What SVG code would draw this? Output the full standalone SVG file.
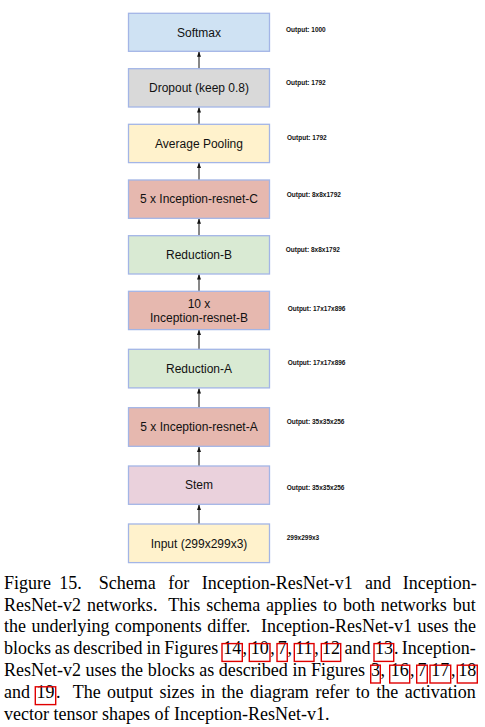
<svg xmlns="http://www.w3.org/2000/svg" width="485" height="727" viewBox="0 0 485 727">
<defs>
<marker id="ah" markerWidth="6" markerHeight="6" refX="5" refY="3" orient="auto" markerUnits="userSpaceOnUse">
<path d="M0,1 L5.2,3 L0,5 Z" fill="#111"/>
</marker>
<style>
.box{stroke:#a3b5e6;stroke-width:1.3}
.lbl{font-family:"Liberation Sans",Arial,sans-serif;font-size:12px;fill:#111;text-anchor:middle}
.out{font-family:"Liberation Sans",Arial,sans-serif;font-size:6.5px;font-weight:bold;fill:#111}
.cap{font-family:"Liberation Serif","Times New Roman",serif;font-size:18px;fill:#000}
.ref{fill:none;stroke:#e00000;stroke-width:1.4}
.arr{stroke:#111;stroke-width:1;fill:none;marker-end:url(#ah)}
</style>
</defs>
<rect width="485" height="727" fill="#fff"/>
<g id="connectors">
<line class="arr" x1="199" y1="524" x2="199" y2="505"/>
<line class="arr" x1="199" y1="466" x2="199" y2="447"/>
<line class="arr" x1="199" y1="407.7" x2="199" y2="388.5"/>
<line class="arr" x1="199" y1="349.3" x2="199" y2="330"/>
<line class="arr" x1="199" y1="291.3" x2="199" y2="274.5"/>
<line class="arr" x1="199" y1="235.7" x2="199" y2="218.8"/>
<line class="arr" x1="199" y1="180" x2="199" y2="163"/>
<line class="arr" x1="199" y1="124.3" x2="199" y2="107.5"/>
<line class="arr" x1="199" y1="68.7" x2="199" y2="51.8"/>
</g>
<g id="softmax"><rect class="box" x="128.5" y="13.3" width="141" height="38" fill="#cfe2f3"/><text class="lbl" x="199" y="36.5">Softmax</text><text class="out" x="286" y="31.5">Output: 1000</text></g>
<g id="dropout"><rect class="box" x="128.5" y="68.7" width="141" height="38.3" fill="#d9d9d9"/><text class="lbl" x="199" y="92">Dropout (keep 0.8)</text><text class="out" x="286" y="84.8">Output: 1792</text></g>
<g id="avgpool"><rect class="box" x="128.5" y="124.3" width="141" height="38.3" fill="#fff2cc"/><text class="lbl" x="199" y="147.6">Average Pooling</text><text class="out" x="287" y="140.4">Output: 1792</text></g>
<g id="inception-c"><rect class="box" x="128.5" y="180" width="141" height="38.3" fill="#e6b8af"/><text class="lbl" x="199" y="203.3">5 x Inception-resnet-C</text><text class="out" x="286.7" y="197.1">Output: 8x8x1792</text></g>
<g id="reduction-b"><rect class="box" x="128.5" y="235.7" width="141" height="38.3" fill="#d9ead3"/><text class="lbl" x="199" y="259">Reduction-B</text><text class="out" x="285.7" y="252.1">Output: 8x8x1792</text></g>
<g id="inception-b"><rect class="box" x="128.5" y="291.3" width="141" height="38.3" fill="#e6b8af"/><text class="lbl" x="199" y="308.4">10 x</text><text class="lbl" x="199" y="322.1">Inception-resnet-B</text><text class="out" x="287.7" y="311.4">Output: 17x17x896</text></g>
<g id="reduction-a"><rect class="box" x="128.5" y="349.3" width="141" height="38.6" fill="#d9ead3"/><text class="lbl" x="199" y="372.6">Reduction-A</text><text class="out" x="287.7" y="365.4">Output: 17x17x896</text></g>
<g id="inception-a"><rect class="box" x="128.5" y="407.7" width="141" height="38.6" fill="#e6b8af"/><text class="lbl" x="199" y="431">5 x Inception-resnet-A</text><text class="out" x="286.7" y="423.8">Output: 35x35x256</text></g>
<g id="stem"><rect class="box" x="128.5" y="466" width="141" height="38.3" fill="#ead1dc"/><text class="lbl" x="199" y="489.3">Stem</text><text class="out" x="286.7" y="490.4">Output: 35x35x256</text></g>
<g id="input"><rect class="box" x="128.5" y="524" width="141" height="38.6" fill="#fff2cc"/><text class="lbl" x="199" y="547.5">Input (299x299x3)</text><text class="out" x="286.7" y="540.4">299x299x3</text></g>
<g id="caption" class="cap">
<text y="588.6"><tspan x="4">Figure</tspan><tspan x="59.3">15.</tspan><tspan x="98.7">Schema</tspan><tspan x="168.3">for</tspan><tspan x="201.7">Inception-ResNet-v1</tspan><tspan x="365">and</tspan><tspan x="402.7">Inception-</tspan></text>
<text y="610.5"><tspan x="4">ResNet-v2</tspan><tspan x="86.9">networks.</tspan><tspan x="168.3">This</tspan><tspan x="206.2">schema</tspan><tspan x="266.1">applies</tspan><tspan x="323">to</tspan><tspan x="342.9">both</tspan><tspan x="380.8">networks</tspan><tspan x="452.7">but</tspan></text>
<text y="632.4"><tspan x="4">the</tspan><tspan x="31.4">underlying</tspan><tspan x="114.8">components</tspan><tspan x="207.2">differ.</tspan><tspan x="261.1">Inception-ResNet-v1</tspan><tspan x="417.5">uses</tspan><tspan x="453.9">the</tspan></text>
<text y="654.3"><tspan x="4">blocks</tspan><tspan x="54.8">as</tspan><tspan x="73.6">described</tspan><tspan x="146.4">in</tspan><tspan x="164.2">Figures</tspan><tspan x="223.2">14</tspan><tspan x="242.5">,</tspan><tspan x="250.7">10</tspan><tspan x="270.2">,</tspan><tspan x="277.7">7</tspan><tspan x="287.5">,</tspan><tspan x="295.2">11</tspan><tspan x="314.2">,</tspan><tspan x="322">12</tspan><tspan x="344.5">and</tspan><tspan x="374.9">13</tspan><tspan x="393.9">.</tspan><tspan x="401.7">Inception-</tspan></text>
<text y="676.2"><tspan x="4">ResNet-v2</tspan><tspan x="85.6">uses</tspan><tspan x="121.1">the</tspan><tspan x="147.7">blocks</tspan><tspan x="199.3">as</tspan><tspan x="218.8">described</tspan><tspan x="292.4">in</tspan><tspan x="311">Figures</tspan><tspan x="371">3</tspan><tspan x="380.5">,</tspan><tspan x="390.7">16</tspan><tspan x="409.9">,</tspan><tspan x="417.5">7</tspan><tspan x="431.3">17</tspan><tspan x="450.9">,</tspan><tspan x="458.3">18</tspan></text>
<text y="698.1"><tspan x="4">and</tspan><tspan x="36.5">19</tspan><tspan x="55.9">.</tspan><tspan x="72.7">The</tspan><tspan x="107.1">output</tspan><tspan x="159.6">sizes</tspan><tspan x="201">in</tspan><tspan x="221.5">the</tspan><tspan x="249.9">diagram</tspan><tspan x="315.4">refer</tspan><tspan x="355.8">to</tspan><tspan x="376.2">the</tspan><tspan x="404.7">activation</tspan></text>
<text x="4" y="720">vector tensor shapes of Inception-ResNet-v1.</text>
</g>
<g id="refs">
<rect class="ref" x="222" y="643.6" width="20.3" height="17.8"/>
<rect class="ref" x="249.3" y="643.6" width="20.7" height="17.8"/>
<rect class="ref" x="277" y="643.6" width="10.3" height="17.8"/>
<rect class="ref" x="294.3" y="643.6" width="19.7" height="17.8"/>
<rect class="ref" x="321.3" y="643.6" width="19.4" height="17.8"/>
<rect class="ref" x="374" y="643.6" width="19.7" height="17.8"/>
<rect class="ref" x="370.7" y="665.2" width="9.6" height="17.8"/>
<rect class="ref" x="389.7" y="665.2" width="20" height="17.8"/>
<rect class="ref" x="416.7" y="665.2" width="10.6" height="17.8"/>
<rect class="ref" x="430" y="665.2" width="20.7" height="17.8"/>
<rect class="ref" x="457.3" y="665.2" width="20" height="17.8"/>
<rect class="ref" x="35.3" y="686.8" width="20.4" height="17.8"/>
</g>
</svg>
